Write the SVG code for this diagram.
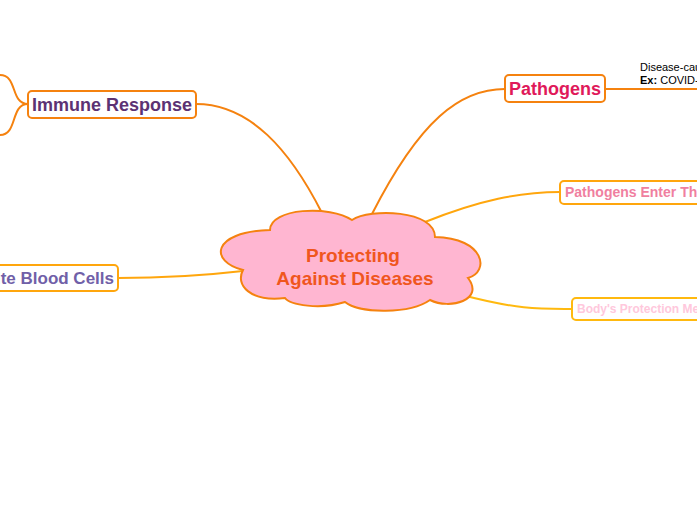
<svg xmlns="http://www.w3.org/2000/svg" width="697" height="520" viewBox="0 0 697 520">
<style>
.n{fill:#fff;stroke-width:2}
.c{fill:none;stroke-width:2}
text{font-family:"Liberation Sans",Arial,sans-serif;font-weight:bold}
text.r{font-weight:normal}
</style>
<rect width="697" height="520" fill="#fff"/>
<g id="connectors">
<path class="c" stroke="#f5820f" d="M322,213 C290,150 250,104 196,104"/>
<path class="c" stroke="#f5820f" d="M28,104 C10,104 18,75 0,75 M28,104 C10,104 18,135 0,135"/>
<path class="c" stroke="#f5820f" d="M372,214 C420,120 460,89 505,89"/>
<path class="c" stroke="#f5820f" d="M605,89 L697,89"/>
<path class="c" stroke="#ffa60d" d="M425,222 C480,200 520,192 560,192"/>
<path class="c" stroke="#ffb90f" d="M462,295 C520,310 540,309 572,309"/>
<path class="c" stroke="#ffa60d" d="M243,271 C200,276 150,278 118,278"/>
</g>
<g id="center">
<path d="M243,270 C210,262 210,232 270,230 C270,208 330,205 352,220 C370,208 435,210 435,237 C485,238 490,272 468,278 C485,300 450,310 430,300 C410,314 360,314 345,302 C320,310 290,305 285,298 C250,302 235,285 243,270 Z" fill="#ffb6d1" stroke="#f5820f" stroke-width="2"/>
<text x="353" y="262" font-size="19" fill="#f0561e" text-anchor="middle">Protecting</text>
<text x="355" y="285" font-size="19" fill="#f0561e" text-anchor="middle">Against Diseases</text>
</g>
<g id="immune">
<rect class="n" x="28" y="91" width="168" height="27" rx="4" stroke="#f5820f"/>
<text x="112" y="111" font-size="18" fill="#5c3273" text-anchor="middle">Immune Response</text>
</g>
<g id="pathogens">
<rect class="n" x="505" y="75" width="100" height="27" rx="4" stroke="#f5820f"/>
<text x="555" y="95" font-size="18" fill="#e0195a" text-anchor="middle">Pathogens</text>
</g>
<g id="pathogens-note">
<text class="r" x="640" y="71" font-size="11" fill="#000">Disease-causing</text>
<text class="r" x="640" y="84" font-size="11" fill="#000"><tspan font-weight="bold">Ex:</tspan> COVID-19</text>
</g>
<g id="enter">
<rect class="n" x="560" y="181" width="150" height="23" rx="4" stroke="#ffa60d"/>
<text x="565" y="197" font-size="14" fill="#f07fa0">Pathogens Enter The Body</text>
</g>
<g id="protection">
<rect class="n" x="572" y="298" width="140" height="22" rx="4" stroke="#ffb90f"/>
<text x="577" y="313" font-size="12" fill="#ffc8dc">Body's Protection Mechanisms</text>
</g>
<g id="wbc">
<rect class="n" x="-20" y="265" width="138" height="26" rx="4" stroke="#ffa60d"/>
<text x="114" y="284" font-size="17" fill="#7060a8" text-anchor="end">White Blood Cells</text>
</g>
</svg>
